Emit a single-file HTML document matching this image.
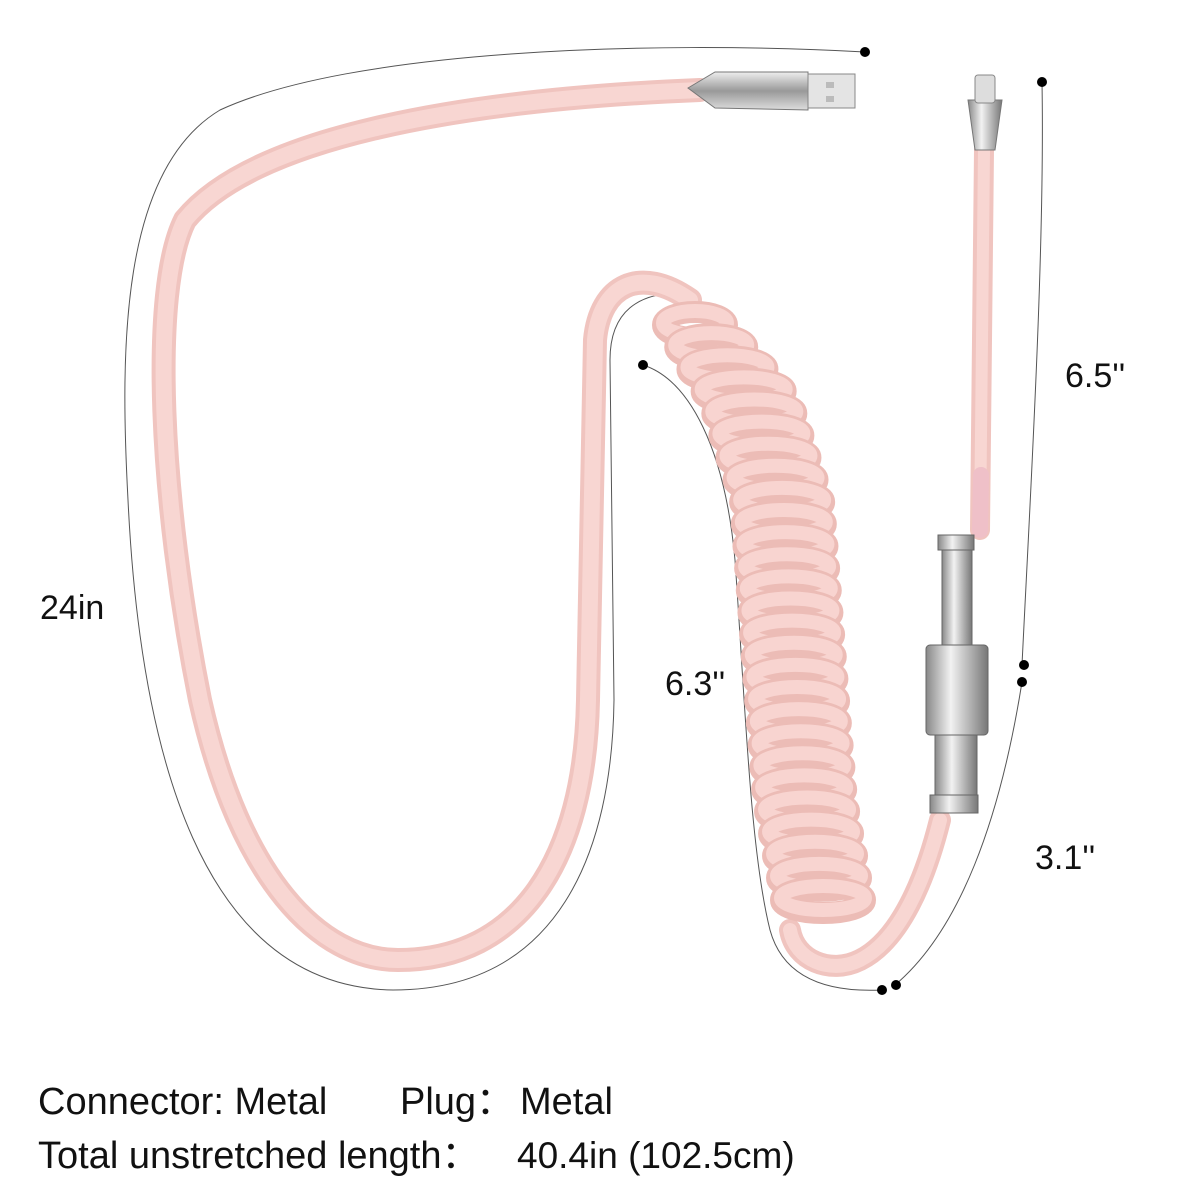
<!DOCTYPE html>
<html><head><meta charset="utf-8"><style>
html,body{margin:0;padding:0;background:#fff;width:1200px;height:1200px;overflow:hidden}
.t{position:absolute;font-family:"Liberation Sans","Noto Sans CJK SC",sans-serif;color:#111;white-space:nowrap;line-height:40px;height:40px}
</style></head><body>
<svg width="1200" height="1200" style="position:absolute;left:0;top:0">
<defs>
<linearGradient id="met" x1="0" y1="0" x2="0" y2="1"><stop offset="0" stop-color="#eee"/><stop offset="0.5" stop-color="#999"/><stop offset="1" stop-color="#ddd"/></linearGradient>
<linearGradient id="metv" x1="0" y1="0" x2="1" y2="0"><stop offset="0" stop-color="#888"/><stop offset="0.4" stop-color="#f2f2f2"/><stop offset="1" stop-color="#777"/></linearGradient>
</defs>
<g fill="none" stroke="#555" stroke-width="1">
<path d="M865,52 C650,40 350,50 220,110 C120,170 120,350 128,500 C140,750 200,987 393,990 C560,990 612,850 614,700 L610,360 C610,310 640,293 680,293"/>
<path d="M643,365 C690,380 725,450 735,560 C745,700 750,850 770,930 C785,985 840,992 882,990"/>
<path d="M1042,82 C1045,250 1030,500 1022,665"/>
<path d="M1022,682 C1000,820 960,930 895,985"/>
</g>
<g fill="#000"><circle cx="865" cy="52" r="5"/><circle cx="680" cy="293" r="5"/><circle cx="643" cy="365" r="5"/><circle cx="1042" cy="82" r="5"/><circle cx="1024" cy="665" r="5"/><circle cx="1022" cy="682" r="5"/><circle cx="882" cy="990" r="5"/><circle cx="896" cy="985" r="5"/></g>
<g fill="none" stroke-linecap="round">
<path d="M700,90 C450,100 250,140 185,220 C150,290 160,500 200,700 C240,880 320,960 398,960 C520,960 585,860 588,700 L595,340 C600,285 640,265 690,300" stroke="#f0c4bf" stroke-width="24"/>
<path d="M700,90 C450,100 250,140 185,220 C150,290 160,500 200,700 C240,880 320,960 398,960 C520,960 585,860 588,700 L595,340 C600,285 640,265 690,300" stroke="#f8d6d2" stroke-width="16"/>
<path d="M790,930 C795,960 830,975 860,960 C900,940 925,880 940,820" stroke="#f0c4bf" stroke-width="22"/>
<path d="M790,930 C795,960 830,975 860,960 C900,940 925,880 940,820" stroke="#f8d6d2" stroke-width="14"/>
<path d="M984,150 L980,530" stroke="#f0c4bf" stroke-width="20"/>
<path d="M984,150 L980,530" stroke="#f8d6d2" stroke-width="12"/>
<path d="M981,475 L980,530" stroke="#efc0c8" stroke-width="16"/>
</g>
<g id="coil" fill="none"></g>
<path d="M688,88 L715,72 L808,72 L808,110 L715,108 Z" fill="url(#met)" stroke="#777"/>
<rect x="808" y="74" width="47" height="34" fill="#e4e4e4" stroke="#888"/>
<rect x="826" y="82" width="8" height="6" fill="#bbb"/><rect x="826" y="96" width="8" height="6" fill="#bbb"/>
<path d="M968,100 L1002,100 L995,150 L975,150 Z" fill="url(#metv)" stroke="#777"/>
<rect x="975" y="75" width="20" height="28" rx="3" fill="#ddd" stroke="#888"/>
<rect x="938" y="535" width="36" height="15" fill="url(#metv)" stroke="#666"/>
<rect x="942" y="550" width="30" height="95" fill="url(#metv)" stroke="#666"/>
<rect x="926" y="645" width="62" height="90" rx="4" fill="url(#metv)" stroke="#666"/>
<rect x="935" y="735" width="42" height="60" fill="url(#metv)" stroke="#666"/>
<rect x="930" y="795" width="48" height="18" fill="url(#metv)" stroke="#666"/>
</svg>
<script>
var pts=[[325,695],[400,750],[500,782],[700,797],[800,805],[900,823]];
function cxAt(y){for(var k=0;k<pts.length-1;k++){if(y<=pts[k+1][0]){var a=pts[k],b=pts[k+1];return a[1]+(b[1]-a[1])*(y-a[0])/(b[0]-a[0]);}}return 823;}
var g=document.getElementById('coil'),s='';
for(var i=0;i<27;i++){var y=325+i*(575/26);var cx=cxAt(y);var w=i<3?32+i*4:42;
s+='<ellipse cx="'+cx+'" cy="'+y+'" rx="'+w+'" ry="13" stroke="#ecbcb6" stroke-width="22"/>';
s+='<ellipse cx="'+cx+'" cy="'+(y-2)+'" rx="'+w+'" ry="12" stroke="#f8d4d0" stroke-width="14"/>';}
g.innerHTML=s;
</script>
<div class="t" style="left:40px;top:588px;font-size:34px">24in</div>
<div class="t" style="left:1065px;top:356px;font-size:34px">6.5''</div>
<div class="t" style="left:665px;top:664px;font-size:34px">6.3''</div>
<div class="t" style="left:1035px;top:838px;font-size:34px">3.1''</div>
<div class="t" style="left:38px;top:1082px;font-size:38px">Connector: Metal</div>
<div class="t" style="left:400px;top:1082px;font-size:38px">Plug：</div>
<div class="t" style="left:520px;top:1082px;font-size:38px">Metal</div>
<div class="t" style="left:38px;top:1136px;font-size:38px">Total unstretched length：</div>
<div class="t" style="left:517px;top:1136px;font-size:37px">40.4in (102.5cm)</div>
</body></html>
